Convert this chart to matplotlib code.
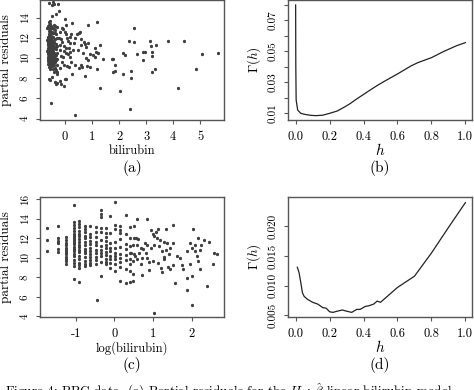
import matplotlib
matplotlib.use("Agg")
import matplotlib.pyplot as plt
import numpy as np

plt.rcParams['font.family'] = 'cmr10'
plt.rcParams['mathtext.fontset'] = 'cm'
plt.rcParams['axes.unicode_minus'] = False

# (a) partial residuals vs bilirubin (standardised)
bili_x = [
    -0.66, -0.66, -0.66,
    -0.64, -0.64, -0.64, -0.64, -0.64, -0.64,
    -0.62, -0.62, -0.62, -0.62, -0.62, -0.62, -0.62, -0.62, -0.62, -0.62, -0.62, -0.62,
    -0.60, -0.60, -0.60, -0.60, -0.60, -0.60, -0.60, -0.60, -0.60, -0.60, -0.60, -0.60, -0.60, -0.60, -0.60, -0.60, -0.60, -0.60, -0.60, -0.60,
    -0.57, -0.57, -0.57, -0.57, -0.57, -0.57, -0.57, -0.57, -0.57, -0.57, -0.57, -0.57, -0.57, -0.57, -0.57, -0.57, -0.57, -0.57,
    -0.55, -0.55, -0.55, -0.55, -0.55, -0.55, -0.55, -0.55, -0.55, -0.55, -0.55, -0.55, -0.55, -0.55,
    -0.53, -0.53, -0.53, -0.53, -0.53, -0.53, -0.53, -0.53, -0.53, -0.53, -0.53, -0.53,
    -0.50, -0.50, -0.50, -0.50, -0.50, -0.50, -0.50, -0.50, -0.50, -0.50, -0.50,
    -0.47, -0.47, -0.47, -0.47, -0.47, -0.47, -0.47, -0.47, -0.47, -0.47, -0.47, -0.47,
    -0.45, -0.45, -0.45, -0.45, -0.45, -0.45, -0.45, -0.45, -0.45, -0.45, -0.45,
    -0.43, -0.43, -0.43, -0.43, -0.43, -0.43, -0.43, -0.43, -0.43,
    -0.40, -0.40, -0.40, -0.40, -0.40, -0.40, -0.40, -0.40, -0.40, -0.40,
    -0.37, -0.37, -0.37, -0.37, -0.37, -0.37, -0.37, -0.37, -0.37, -0.37,
    -0.33, -0.33, -0.33, -0.33, -0.33, -0.33, -0.33, -0.33,
    -0.30, -0.30, -0.30, -0.30, -0.30, -0.30, -0.30, -0.30,
    -0.28, -0.26, -0.24, -0.22, -0.20, -0.20, -0.20, -0.18, -0.17, -0.15, -0.14, -0.13,
    -0.12, -0.10, -0.10, -0.08, -0.07, -0.05, -0.04, -0.03, -0.02, 0.00, 0.00, 0.00,
    0.02, 0.02, 0.04, 0.05, 0.05, 0.07, 0.08, 0.10, 0.10, 0.13, 0.14, 0.17,
    0.17, 0.20, 0.20, 0.23, 0.23, 0.27, 0.27, 0.30, 0.33, 0.36, 0.36, 0.38,
    0.46, 0.48, 0.50, 0.54, 0.50, 0.60, 0.58, 0.60, 0.64, 0.67, 0.70, 0.73,
    0.73, 0.79, 0.79, 0.82, 0.85, 0.85, 0.86, 0.91, 0.94, 1.04, 1.10, 1.12,
    1.16, 1.19, 1.20, 1.22, 1.28, 1.31, 1.42, 1.73, 1.77, 1.79, 1.84, 1.86,
    2.04, 2.13, 2.13, 2.21, 2.36, 2.39, 2.44, 2.45, 2.54, 2.56, 2.67, 2.88,
    2.90, 2.94, 3.14, 3.17, 3.22, 3.22, 3.23, 3.33, 3.37, 3.81, 4.18, 4.39,
    4.85, 5.08, 5.66,
]
bili_y = [
    13.0, 11.8, 10.7,
    13.2, 12.0, 11.7, 11.5, 10.9, 10.6,
    12.1, 11.8, 11.5, 11.3, 11.0, 10.8, 10.6, 10.4, 10.1, 9.9, 9.7, 9.4,
    15.4, 13.6, 13.3, 13.0, 12.7, 12.4, 12.2, 12.0, 11.8, 11.6, 11.4, 11.1, 10.9, 10.7, 10.4, 10.2, 9.8, 9.5, 9.1, 7.9,
    13.7, 13.4, 13.1, 12.7, 12.4, 12.2, 11.9, 11.6, 11.3, 11.1, 10.8, 10.6, 10.2, 9.9, 9.5, 9.2, 8.9, 7.8,
    13.2, 12.9, 12.6, 12.2, 12.0, 11.6, 11.3, 10.9, 10.7, 10.5, 10.1, 9.7, 9.4, 9.1,
    13.2, 12.4, 12.1, 11.7, 11.4, 11.0, 10.7, 10.4, 10.1, 9.8, 9.5, 9.2,
    13.1, 12.6, 12.1, 11.6, 11.3, 10.8, 10.5, 10.1, 9.8, 9.3, 5.5,
    15.2, 14.2, 13.0, 12.6, 11.8, 11.2, 10.8, 10.5, 10.2, 9.6, 9.2, 8.1,
    13.0, 12.5, 12.1, 11.7, 11.3, 11.0, 10.6, 10.3, 9.9, 9.6, 9.3,
    15.5, 12.5, 11.5, 11.0, 10.7, 10.2, 9.9, 9.5, 8.9,
    15.3, 13.3, 12.9, 11.6, 11.0, 10.5, 10.2, 9.9, 9.3, 8.6,
    13.2, 12.8, 12.5, 11.9, 11.1, 10.4, 10.0, 9.6, 9.0, 7.6,
    14.4, 12.4, 11.4, 10.9, 10.3, 9.8, 8.8, 7.4,
    13.1, 12.0, 11.2, 10.5, 9.9, 9.3, 8.6, 7.5,
    8.4, 15.35, 14.7, 12.0, 7.7, 11.3, 12.6, 10.8, 9.0, 10.2, 11.9, 7.45,
    11.6, 9.6, 13.0, 12.9, 10.1, 10.7, 7.2, 11.2, 9.3, 13.9, 12.6, 7.96,
    13.27, 12.33, 10.5, 7.9, 11.0, 9.2, 12.0, 10.4, 11.7, 10.95, 9.1, 10.1,
    12.1, 11.45, 10.6, 12.4, 9.6, 13.5, 8.4, 10.8, 11.45, 12.0, 9.3, 4.38,
    12.4, 10.8, 12.5, 12.6, 8.97, 11.28, 11.9, 9.3, 9.13, 10.46, 11.6, 11.35,
    8.2, 11.1, 9.96, 9.2, 11.45, 9.8, 13.3, 9.13, 10.4, 10.3, 10.95, 10.13,
    10.62, 8.87, 13.56, 10.46, 11.28, 7.05, 9.93, 9.86, 8.64, 9.86, 8.7, 9.27,
    6.73, 10.46, 8.45, 10.3, 11.65, 4.95, 8.67, 8.04, 12.97, 11.62, 10.43, 9.8,
    10.56, 10.63, 11.68, 11.15, 10.56, 10.2, 8.6, 8.93, 11.32, 11.68, 6.99, 11.68,
    8.87, 10.36, 10.53,
]

# (c) partial residuals vs log(bilirubin) (standardised)
logbili_x = [
    -1.73, -1.73, -1.73,
    -1.45, -1.45, -1.45, -1.45, -1.45, -1.45,
    -1.24, -1.24, -1.24, -1.24, -1.24, -1.24, -1.24, -1.24, -1.24, -1.24, -1.24, -1.24,
    -1.05, -1.05, -1.05, -1.05, -1.05, -1.05, -1.05, -1.05, -1.05, -1.05, -1.05, -1.05, -1.05, -1.05, -1.05, -1.05, -1.05, -1.05, -1.05, -1.05,
    -0.90, -0.90, -0.90, -0.90, -0.90, -0.90, -0.90, -0.90, -0.90, -0.90, -0.90, -0.90, -0.90, -0.90, -0.90, -0.90, -0.90, -0.90,
    -0.75, -0.75, -0.75, -0.75, -0.75, -0.75, -0.75, -0.75, -0.75, -0.75, -0.75, -0.75, -0.75, -0.75,
    -0.62, -0.62, -0.62, -0.62, -0.62, -0.62, -0.62, -0.62, -0.62, -0.62, -0.62, -0.62,
    -0.48, -0.48, -0.48, -0.48, -0.48, -0.48, -0.48, -0.48, -0.48, -0.48, -0.45,
    -0.35, -0.33, -0.35, -0.35, -0.35, -0.35, -0.35, -0.35, -0.35, -0.35, -0.35, -0.35,
    -0.22, -0.22, -0.22, -0.22, -0.22, -0.22, -0.22, -0.22, -0.22, -0.22, -0.22,
    -0.10, -0.10, -0.10, -0.10, -0.10, -0.10, -0.10, -0.10, -0.10,
    0.03, 0.03, 0.03, 0.03, 0.03, 0.03, 0.03, 0.03, 0.03, 0.03,
    0.16, 0.16, 0.16, 0.16, 0.16, 0.16, 0.16, 0.16, 0.16, 0.16,
    0.30, 0.30, 0.30, 0.30, 0.30, 0.30, 0.30, 0.30,
    0.42, 0.42, 0.42, 0.42, 0.42, 0.42, 0.42, 0.42,
    0.52, 0.60, 0.84, 1.12, 1.33, 1.53, 2.05, 0.95, 1.00, 1.04, 1.11, 1.08,
    0.52, 0.56, 0.62, 0.48, 0.60, 0.80, 0.86, 1.19, 1.28, 1.36, 1.53, 1.45,
    1.35, 1.24, 1.16, 1.03, 0.95, 0.82, 0.69, 0.65, 0.52, 0.43, 0.73, 0.86,
    0.60, 0.48, 1.00, 1.12, 1.28, 1.41, 1.62, 1.70, 1.75, 1.79, 1.88, 1.96,
    2.00, 2.09, 2.18, 2.24, 2.33, 2.44, 2.09, 2.13, 2.22, 2.18, 2.22, 2.57,
    2.67, 2.55, 2.41, 2.00, 1.88, 1.88, 2.00, 1.02, 1.58, 1.20, 0.90, 0.73,
    0.48, 0.48, 1.45, 1.53, 1.24, 1.96, 0.70, 0.90, 1.30, 1.40, 0.55, 0.75,
]
logbili_y = [
    13.0, 11.8, 10.7,
    13.2, 12.0, 11.7, 11.5, 10.9, 10.6,
    12.1, 11.8, 11.5, 11.3, 11.0, 10.8, 10.6, 10.4, 10.1, 9.9, 9.7, 9.4,
    15.4, 13.6, 13.3, 13.0, 12.7, 12.4, 12.2, 12.0, 11.8, 11.6, 11.4, 11.1, 10.9, 10.7, 10.4, 10.2, 9.8, 9.5, 9.1, 7.8,
    13.7, 13.4, 13.1, 12.7, 12.4, 12.2, 11.9, 11.6, 11.3, 11.1, 10.8, 10.6, 10.2, 9.9, 9.5, 9.2, 8.9, 7.5,
    13.2, 12.9, 12.6, 12.2, 12.0, 11.6, 11.3, 10.9, 10.7, 10.5, 10.1, 9.7, 9.4, 9.1,
    13.2, 12.4, 12.1, 11.7, 11.4, 11.0, 10.7, 10.4, 10.1, 9.8, 9.5, 9.2,
    13.1, 12.6, 12.1, 11.6, 11.3, 10.8, 10.5, 10.1, 9.8, 9.3, 5.7,
    14.9, 14.5, 14.2, 13.0, 12.6, 11.8, 11.2, 10.8, 10.5, 10.2, 9.6, 8.1,
    13.0, 12.5, 12.1, 11.7, 11.3, 11.0, 10.6, 10.3, 9.9, 9.6, 9.3,
    12.5, 11.5, 11.0, 10.7, 10.2, 9.9, 9.5, 8.9, 14.3,
    15.7, 13.3, 12.9, 11.6, 11.0, 10.5, 10.2, 9.9, 9.3, 8.6,
    13.2, 12.8, 12.5, 11.9, 11.1, 10.4, 10.0, 9.6, 9.0, 7.6,
    14.4, 12.4, 11.4, 10.9, 10.3, 9.8, 8.8, 7.4,
    13.1, 12.0, 11.2, 10.5, 9.9, 9.3, 8.6, 7.5,
    13.2, 14.0, 13.9, 12.97, 12.97, 13.38, 12.9, 12.8, 12.4, 12.2, 12.0, 12.6,
    12.05, 12.0, 11.9, 11.3, 11.3, 11.5, 11.3, 11.8, 11.6, 11.5, 11.5, 11.0,
    10.8, 10.7, 11.2, 11.3, 11.0, 10.5, 11.0, 10.5, 10.4, 10.5, 10.0, 10.0,
    9.9, 9.7, 9.7, 9.5, 9.85, 10.35, 10.2, 10.0, 9.2, 8.85, 10.7, 11.5,
    11.0, 11.3, 12.0, 11.3, 11.8, 11.6, 10.7, 10.2, 10.8, 9.7, 8.85, 10.5,
    10.4, 9.3, 7.1, 8.1, 7.9, 6.73, 5.13, 4.38, 7.4, 8.9, 8.7, 8.2,
    8.3, 7.6, 8.85, 9.2, 8.5, 9.3, 9.4, 9.6, 10.1, 9.0, 10.2, 10.9,
]

# (b) Gamma(h) for bilirubin
h_b = [0.0, 0.001, 0.003, 0.012, 0.03, 0.06, 0.09, 0.12, 0.16, 0.2, 0.245, 0.285,
       0.32, 0.36, 0.4, 0.44, 0.48, 0.52, 0.6, 0.68, 0.72, 0.8, 0.87, 0.95, 1.0]
gamma_b = [0.0799, 0.040, 0.0186, 0.0121, 0.0100, 0.0092, 0.0087, 0.0085, 0.0088, 0.0100,
           0.0115, 0.0139, 0.0162, 0.0193, 0.0222, 0.0251, 0.0279, 0.0305, 0.0354,
           0.0406, 0.0427, 0.0459, 0.0498, 0.0537, 0.0556]

# (d) Gamma(h) for log(bilirubin)
h_d = [0.01, 0.02, 0.03, 0.04, 0.05, 0.07, 0.10, 0.13, 0.16, 0.18, 0.20, 0.22, 0.245,
       0.275, 0.30, 0.33, 0.36, 0.38, 0.41, 0.43, 0.46, 0.48, 0.50, 0.60, 0.70, 0.80,
       0.90, 1.00]
gamma_d = [0.0131, 0.0122, 0.0106, 0.0088, 0.0082, 0.0077, 0.0072, 0.0069, 0.0063,
           0.0062, 0.0056, 0.0055, 0.0057, 0.0059, 0.0057, 0.0055, 0.0060, 0.0060,
           0.0065, 0.0066, 0.0069, 0.0074, 0.0072, 0.0097, 0.0116, 0.0155, 0.0198,
           0.0240]

W, H = 474, 390
fig = plt.figure(figsize=(W / 100, H / 100), dpi=100)
boxcol = '#555555'


def panel(left, top, right, bottom):
    ax = fig.add_axes([left / W, (H - bottom) / H, (right - left) / W, (bottom - top) / H])
    for s in ax.spines.values():
        s.set_color(boxcol)
        s.set_linewidth(1.0)
    ax.tick_params(direction='out', length=3, width=0.8, color=boxcol, labelsize=9, pad=4.5)
    ax.tick_params(axis='y', labelrotation=90, labelsize=8, pad=4.5)
    return ax


def labels(ax, xlab, ylab, tag, xsize=9, xoff=31):
    for lab in ax.get_yticklabels():
        lab.set_va('center')
    ax.set_xlabel(xlab, fontsize=xsize)
    ax.xaxis.set_label_coords(0.5, -xoff / 120)
    ax.xaxis.label.set_va('center')
    ax.set_ylabel(ylab, fontsize=9.5)
    ax.yaxis.set_label_coords(-34 / 184, 0.5)
    ax.yaxis.label.set_va('center')
    ax.annotate(tag, xy=(0.5, 0), xycoords='axes fraction', xytext=(0, -48),
                textcoords='offset pixels', ha='center', va='center', fontsize=11)


star = (6, 2, 0)
pt_style = dict(ls='none', marker=star, ms=2.3, mew=0.5, color='#404040')

ax = panel(40, 0, 224, 120)
ax.plot(bili_x, bili_y, **pt_style)
ax.set_xlim(-0.925, 5.88)
ax.set_ylim(3.86, 15.74)
ax.set_xticks([0, 1, 2, 3, 4, 5])
ax.set_yticks([4, 6, 8, 10, 12, 14])
labels(ax, 'bilirubin', 'partial residuals', '(a)')

ax = panel(288, 0, 472, 120)
ax.plot(h_b, gamma_b, color='#222222', lw=0.9)
ax.set_xlim(-0.045, 1.039)
ax.set_ylim(0.0057, 0.0831)
ax.set_xticks([0, 0.2, 0.4, 0.6, 0.8, 1.0])
ax.set_xticklabels(['0.0', '0.2', '0.4', '0.6', '0.8', '1.0'])
ax.set_yticks([0.01, 0.02, 0.03, 0.04, 0.05, 0.06, 0.07, 0.08])
ax.set_yticklabels(['0.01', '', '0.03', '', '0.05', '', '0.07', ''])
labels(ax, '$h$', r'$\Gamma(h)$', '(b)', xsize=11, xoff=30)

ax = panel(40, 197, 224, 317)
ax.plot(logbili_x, logbili_y, **pt_style)
ax.set_xlim(-1.92, 2.84)
ax.set_ylim(3.93, 16.2)
ax.set_xticks([-1, 0, 1, 2])
ax.set_yticks([4, 6, 8, 10, 12, 14, 16])
labels(ax, 'log(bilirubin)', 'partial residuals', '(c)')

ax = panel(288, 197, 472, 317)
ax.plot(h_d, gamma_d, color='#222222', lw=0.9)
ax.set_xlim(-0.045, 1.039)
ax.set_ylim(0.00472, 0.02495)
ax.set_xticks([0, 0.2, 0.4, 0.6, 0.8, 1.0])
ax.set_xticklabels(['0.0', '0.2', '0.4', '0.6', '0.8', '1.0'])
ax.set_yticks([0.005, 0.010, 0.015, 0.020])
ax.set_yticklabels(['0.005', '0.010', '0.015', '0.020'])
labels(ax, '$h$', r'$\Gamma(h)$', '(d)', xsize=11, xoff=30)

fig.text(5 / W, (H - 381) / H, r'Figure 4: PBC data. (a) Partial residuals for the $H_0$: $\hat{\beta}$ linear bilirubin model',
         fontsize=9.5, va='top', ha='left')

fig.savefig('out.png', dpi=100)
